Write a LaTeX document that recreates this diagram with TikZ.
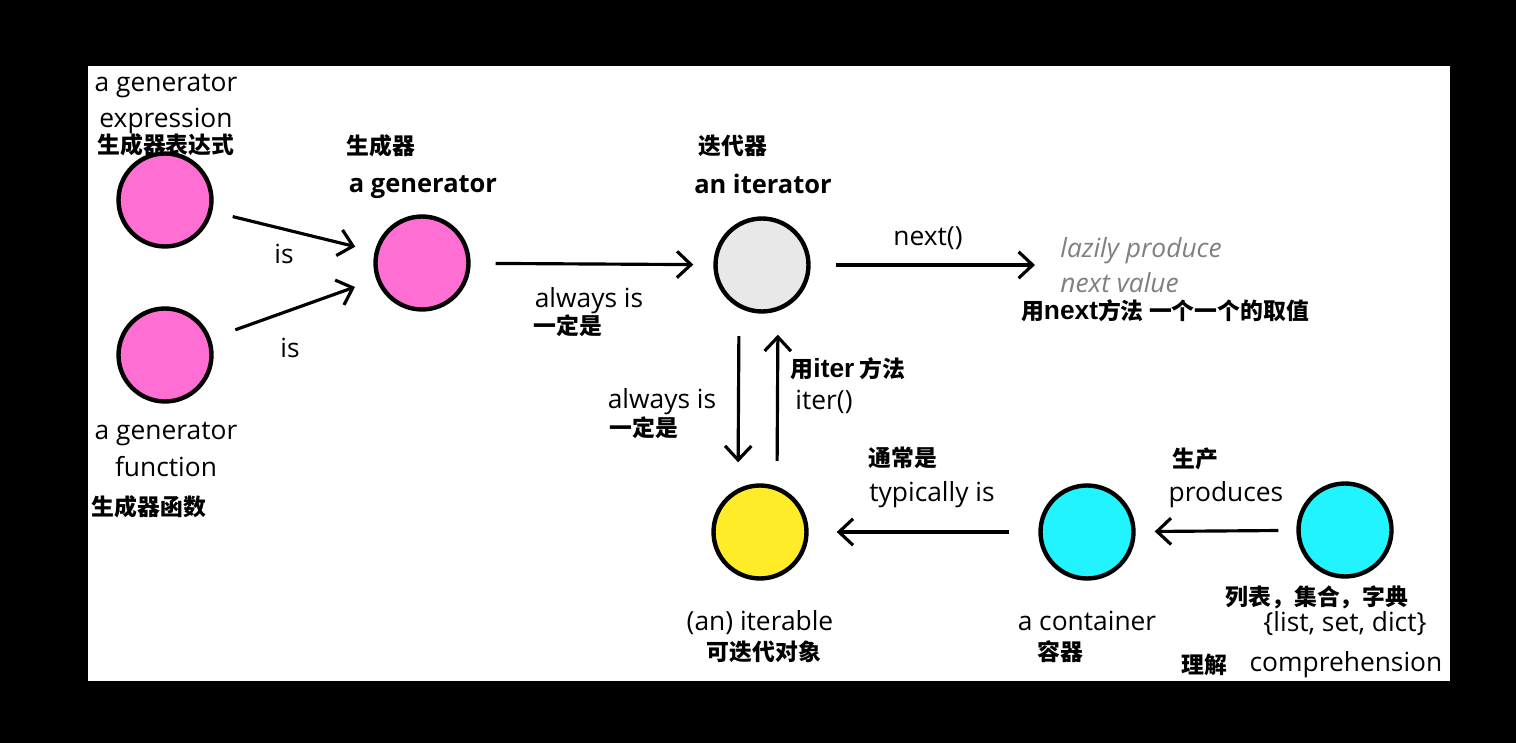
\documentclass[tikz,border=0pt]{standalone}
\usepackage{fontspec}
\setmainfont{Open Sans}
\newfontfamily\zhfont{Noto Sans CJK SC}
\newfontfamily\arialfont{Liberation Sans}
\usepackage{xcolor}
\usepackage{tikz}
\usetikzlibrary{positioning,arrows.meta}
\definecolor{genpink}{RGB}{255,110,210}
\definecolor{itergrey}{RGB}{232,232,232}
\definecolor{iteryellow}{RGB}{255,236,40}
\definecolor{contcyan}{RGB}{34,244,255}
\definecolor{lazygrey}{RGB}{128,128,128}
\tikzset{
	ball/.style={circle,draw=black,line width=2.5pt,minimum size=1.86cm,inner sep=0pt},
	flow/.style={line width=1.8pt,-{Straight Barb[length=8pt,width=15pt]},shorten <=0.45cm,shorten >=0.42cm},
	en/.style={inner sep=0pt,align=center,font=\fontsize{15}{21}\selectfont},
	enbold/.style={inner sep=0pt,font=\bfseries\fontsize{14.5}{18}\selectfont},
	zh/.style={inner sep=0pt,font=\zhfont\bfseries\fontsize{13}{15}\selectfont}
}
\newcommand{\arb}[1]{{\arialfont\bfseries\fontsize{15}{15}\selectfont #1}}

\begin{document}
\begin{tikzpicture}[x=0.02cm,y=-0.02cm]
	\useasboundingbox (0,0) rectangle (1516,743);
	\fill[black] (0,0) rectangle (1516,743);
	\fill[white] (88,66) rectangle (1450,681);

	%cercles
	\node[ball,fill=genpink] (gexpr) at (165,200) {};
	\node[ball,fill=genpink] (gfunc) at (165,355) {};
	\node[ball,fill=genpink] (gen) at (422,263) {};
	\node[ball,fill=itergrey] (iter) at (762,265) {};
	\node[ball,fill=iteryellow] (iterable) at (760,532) {};
	\node[ball,fill=contcyan] (cont) at (1087,532) {};
	\node[ball,fill=contcyan] (comp) at (1345,530) {};

	%textes des cercles
	\node[en] (gexprtxt) at (166,104) {a generator\\expression};
	\node[zh] (gexprzh) at (166,145) {生成器表达式};
	\node[en] (gfunctxt) at (166,449) {a generator\\function};
	\node[zh] (gfunczh) at (149,507) {生成器函数};
	\node[zh] (genzh) at (381,146) {生成器};
	\node[enbold] (gentxt) at (423,187) {a generator};
	\node[zh] (iterzh) at (733,146) {迭代器};
	\node[enbold] (itertxt) at (763,184) {an iterator};
	\node[en] (iterabletxt) at (760,623) {(an) iterable};
	\node[zh] (iterablezh) at (764,652) {可迭代对象};
	\node[en] (conttxt) at (1087,621) {a container};
	\node[zh] (contzh) at (1060,652) {容器};
	\node[zh] (compzh) at (1317,597) {列表，集合，字典};
	\node[en] (comptxt) at (1345,624) {\{list, set, dict\}};
	\node[en] (comptxtb) at (1346,665) {comprehension};
	\node[zh] (compzhb) at (1204,665) {理解};

	%sortie de next
	\node[en,anchor=west,align=left,text=lazygrey,font=\itshape\fontsize{15}{20}\selectfont] (lazy) at (1060,265) {lazily produce\\next value};
	\node[zh] (lazyzh) at (1165,311) {用\arb{next}方法 一个一个的取值};

	%fleches
	\draw[flow,shorten <=0.42cm,shorten >=0.4cm] (gexpr) -- (gen);
	\draw[flow,shorten <=0.52cm,shorten >=0.45cm] (gfunc) -- (gen);
	\draw[flow,shorten <=0.5cm,shorten >=0.4cm] (gen) -- (iter);
	\draw[flow,shorten <=0.5cm,shorten >=0.5cm] (iter) -- (lazy);
	\draw[flow] ([xshift=-0.46cm]iter.south) -- ([xshift=-0.44cm]iterable.north);
	\draw[flow] ([xshift=0.34cm]iterable.north) -- ([xshift=0.32cm]iter.south);
	\draw[flow,shorten <=0.58cm,shorten >=0.56cm] (cont) -- (iterable);
	\draw[flow,shorten <=0.36cm,shorten >=0.38cm] (comp) -- (cont);

	%etiquettes des fleches
	\node[en] (is1) at (284,254) {is};
	\node[en] (is2) at (290,348) {is};
	\node[en] (always1) at (589,301) {always is};
	\node[zh] (always1zh) at (568,326) {一定是};
	\node[en] (nexttxt) at (928,238) {next()};
	\node[en] (always2) at (662,402) {always is};
	\node[zh] (always2zh) at (644,428) {一定是};
	\node[zh] (iterzhb) at (848,369) {用\arb{iter} 方法};
	\node[en] (itertxtb) at (824,402) {iter()};
	\node[zh] (typzh) at (903,458) {通常是};
	\node[en] (typtxt) at (932,495) {typically is};
	\node[zh] (prodzh) at (1195,459) {生产};
	\node[en] (prodtxt) at (1226,495) {produces};
\end{tikzpicture}
\end{document}
